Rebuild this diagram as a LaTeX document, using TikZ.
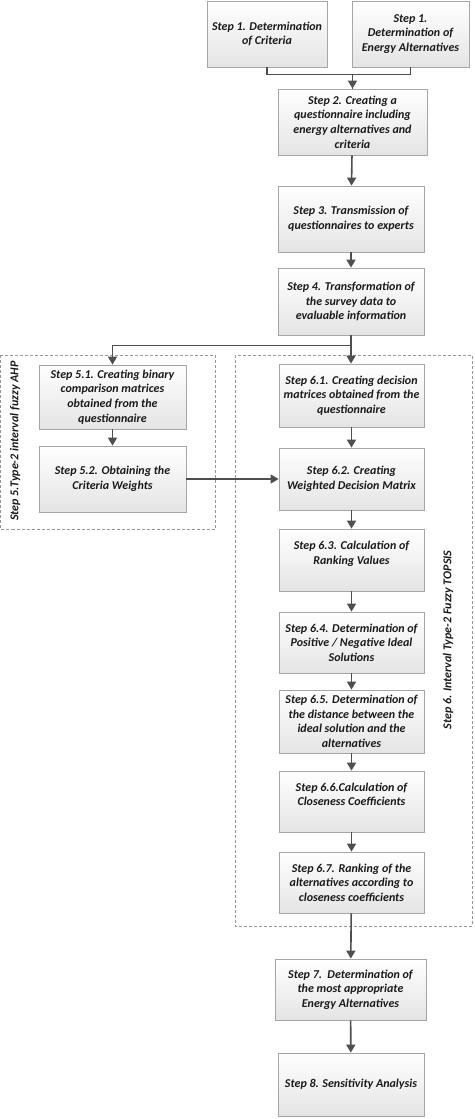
\documentclass[tikz,border=0pt]{standalone}
\usepackage{fontspec}
\setmainfont{Carlito}
\usetikzlibrary{arrows.meta,shadows}
\definecolor{boxline}{HTML}{A6A6A6}
\definecolor{boxbot}{HTML}{E4E4E4}
\definecolor{conn}{HTML}{4F4F4F}
\definecolor{txt}{HTML}{1A1A1A}
\tikzset{
  stepbox/.style={draw=boxline, line width=0.8pt, top color=white, bottom color=boxbot,
    align=center, inner sep=2pt, text=txt,
    font=\fontsize{12}{14.6}\selectfont\bfseries\itshape,
    drop shadow={shadow xshift=1.2pt, shadow yshift=-1.2pt, opacity=0.35, fill=gray}},
  conn/.style={draw=conn, line width=1.6pt, -{Triangle[width=9pt,length=8pt]}},
  plainconn/.style={draw=conn, line width=1.6pt},
  groupbox/.style={draw=gray!80, densely dashed, line width=0.7pt},
  grouplabel/.style={rotate=90, text=txt, font=\fontsize{12}{14.6}\selectfont\bfseries\itshape}
}
\begin{document}
\begin{tikzpicture}[x=1pt,y=1pt]
\useasboundingbox (0,0) rectangle (474,-1119);
% groups
\draw[groupbox] (0.5,-355) rectangle (215,-529);
\draw[groupbox] (235,-355) rectangle (472,-926);
\node[grouplabel] (g5) at (15,-441) {Step 5.Type-2 interval fuzzy AHP};
\node[grouplabel] (g6) at (448,-640) {Step 6. Interval Type-2 Fuzzy TOPSIS};
% boxes
\node[stepbox, minimum width=120pt, minimum height=66pt] (s1a) at (267,-34) {Step 1. Determination\\of Criteria};
\node[stepbox, minimum width=117pt, minimum height=66pt] (s1b) at (410.5,-34) {Step 1.\\Determination of\\Energy Alternatives};
\node[stepbox, minimum width=149pt, minimum height=66pt] (s2) at (352.5,-122) {Step 2. Creating a\\questionnaire including\\energy alternatives and\\criteria};
\node[stepbox, minimum width=146pt, minimum height=66pt] (s3) at (351,-219) {Step 3. Transmission of\\questionnaires to experts};
\node[stepbox, minimum width=146pt, minimum height=67pt] (s4) at (351,-301.5) {Step 4. Transformation of\\the survey data to\\evaluable information};
\node[stepbox, minimum width=147pt, minimum height=64pt] (s51) at (112.5,-397) {Step 5.1. Creating binary\\comparison matrices\\obtained from the\\questionnaire};
\node[stepbox, minimum width=147pt, minimum height=66pt] (s52) at (112.5,-479) {Step 5.2. Obtaining the\\Criteria Weights};
\node[stepbox, minimum width=145pt, minimum height=63pt] (s61) at (351.5,-395.5) {Step 6.1. Creating decision\\matrices obtained from the\\questionnaire};
\node[stepbox, minimum width=145pt, minimum height=62pt] (s62) at (351.5,-479) {Step 6.2. Creating\\Weighted Decision Matrix};
\node[stepbox, minimum width=145pt, minimum height=62pt] (s63) at (351.5,-560) {Step 6.3. Calculation of\\Ranking Values\\\mbox{}};
\node[stepbox, minimum width=145pt, minimum height=61pt] (s64) at (351.5,-642.5) {Step 6.4. Determination of\\Positive / Negative Ideal\\Solutions};
\node[stepbox, minimum width=145pt, minimum height=63pt] (s65) at (351.5,-721.5) {Step 6.5. Determination of\\the distance between the\\ideal solution and the\\alternatives};
\node[stepbox, minimum width=145pt, minimum height=61pt] (s66) at (351.5,-801.5) {Step 6.6.Calculation of\\Closeness Coefficients\\\mbox{}};
\node[stepbox, minimum width=145pt, minimum height=61pt] (s67) at (351.5,-882.5) {Step 6.7. Ranking of the\\alternatives according to\\closeness coefficients};
\node[stepbox, minimum width=151pt, minimum height=61pt] (s7) at (350.5,-989.5) {Step 7.\ \ Determination of\\the most appropriate\\Energy Alternatives};
\node[stepbox, minimum width=146pt, minimum height=63pt] (s8) at (351,-1084.5) {Step 8. Sensitivity Analysis};
% connectors
\draw[plainconn] (s1a.south) -- ++(0,-7) -| (s2.north);
\draw[conn] (s1b.south) -- ++(0,-7) -| (s2.north);
\draw[conn] (s2) -- (s3);
\draw[conn] (s3) -- (s4);
\draw[conn] (s4.south) -- ++(0,-10) -| (s51.north);
\draw[conn] (s4.south) -- (s4.south |- s61.north);
\draw[conn] (s51) -- (s52);
\draw[conn] (s52.east) -- (s62.west);
\draw[conn] (s61) -- (s62);
\draw[conn] (s62) -- (s63);
\draw[conn] (s63) -- (s64);
\draw[conn] (s64) -- (s65);
\draw[conn] (s65) -- (s66);
\draw[conn] (s66) -- (s67);
\draw[conn] (s67) -- (s7);
\draw[conn] (s7) -- (s8);
\end{tikzpicture}
\end{document}
